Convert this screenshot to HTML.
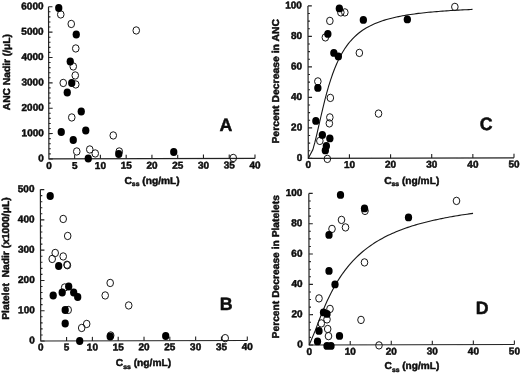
<!DOCTYPE html>
<html lang="en">
<head>
<meta charset="utf-8">
<title>Css versus nadir and percent decrease</title>
<style>
html,body{margin:0;padding:0;background:#fff;}
body{width:520px;height:374px;overflow:hidden;}
svg{display:block;}
text{font-family:"Liberation Sans", sans-serif;text-rendering:geometricPrecision;stroke:#0a0a0a;stroke-width:0.45;stroke-linejoin:round;}
.ax{fill:none;stroke:#222;stroke-width:1.2;}
.tk{fill:none;stroke:#222;stroke-width:1.1;}
.cv{fill:none;stroke:#151515;stroke-width:1.1;}
.o{fill:none;stroke:#161616;stroke-width:1.0;}
.f{fill:#000;stroke:none;}
</style>
</head>
<body>
<svg width="520" height="374" viewBox="0 0 520 374">
<defs><filter id="soft" x="0" y="0" width="520" height="374" filterUnits="userSpaceOnUse"><feGaussianBlur stdDeviation="0.3"/></filter></defs>
<rect width="520" height="374" fill="#fff"/>
<g font-weight="700" font-size="10.0" fill="#0a0a0a" filter="url(#soft)">
<g id="panelA">
<g transform="rotate(-0.14 48.9 158.95)">
<path class="ax" d="M48.9 6.75V158.95H255"/>
<path class="tk" d="M48.9 158.95h3.9M48.9 153.88h1.9M48.9 148.8h1.9M48.9 143.73h1.9M48.9 138.66h1.9M48.9 133.58h3.9M48.9 128.51h1.9M48.9 123.44h1.9M48.9 118.36h1.9M48.9 113.29h1.9M48.9 108.22h3.9M48.9 103.14h1.9M48.9 98.07h1.9M48.9 93h1.9M48.9 87.92h1.9M48.9 82.85h3.9M48.9 77.78h1.9M48.9 72.7h1.9M48.9 67.63h1.9M48.9 62.56h1.9M48.9 57.48h3.9M48.9 52.41h1.9M48.9 47.34h1.9M48.9 42.26h1.9M48.9 37.19h1.9M48.9 32.12h3.9M48.9 27.04h1.9M48.9 21.97h1.9M48.9 16.9h1.9M48.9 11.82h1.9M48.9 6.75h3.9M74.66 158.95v-4.0M100.42 158.95v-4.0M126.19 158.95v-4.0M151.95 158.95v-4.0M177.71 158.95v-4.0M203.47 158.95v-4.0M229.24 158.95v-4.0M255 158.95v-4.0"/>
<text x="48.9" y="169.05" text-anchor="middle">0</text>
<text x="74.66" y="169.05" text-anchor="middle">5</text>
<text x="100.42" y="169.05" text-anchor="middle">10</text>
<text x="126.19" y="169.05" text-anchor="middle">15</text>
<text x="151.95" y="169.05" text-anchor="middle">20</text>
<text x="177.71" y="169.05" text-anchor="middle">25</text>
<text x="203.47" y="169.05" text-anchor="middle">30</text>
<text x="229.24" y="169.05" text-anchor="middle">35</text>
<text x="255" y="169.05" text-anchor="middle">40</text>
<text x="43.9" y="161.55" text-anchor="end">0</text>
<text x="43.9" y="136.18" text-anchor="end">1000</text>
<text x="43.9" y="110.82" text-anchor="end">2000</text>
<text x="43.9" y="85.45" text-anchor="end">3000</text>
<text x="43.9" y="60.08" text-anchor="end">4000</text>
<text x="43.9" y="34.72" text-anchor="end">5000</text>
<text x="43.9" y="9.35" text-anchor="end">6000</text>
</g>
<ellipse class="o" cx="60.75" cy="14.45" rx="3.3" ry="3.7"/>
<ellipse class="o" cx="71.25" cy="23.95" rx="3.3" ry="3.7"/>
<ellipse class="o" cx="75.75" cy="48.45" rx="3.3" ry="3.7"/>
<ellipse class="o" cx="73.25" cy="66.45" rx="3.3" ry="3.7"/>
<ellipse class="o" cx="75.25" cy="75.45" rx="3.3" ry="3.7"/>
<ellipse class="o" cx="63.25" cy="82.95" rx="3.3" ry="3.7"/>
<ellipse class="o" cx="75.75" cy="84.45" rx="3.3" ry="3.7"/>
<ellipse class="o" cx="71.75" cy="117.45" rx="3.3" ry="3.7"/>
<ellipse class="o" cx="136.25" cy="30.45" rx="3.3" ry="3.7"/>
<ellipse class="o" cx="113.25" cy="135.45" rx="3.3" ry="3.7"/>
<ellipse class="o" cx="76.75" cy="151.45" rx="3.3" ry="3.7"/>
<ellipse class="o" cx="89.75" cy="149.45" rx="3.3" ry="3.7"/>
<ellipse class="o" cx="95.25" cy="153.45" rx="3.3" ry="3.7"/>
<ellipse class="o" cx="119.25" cy="151.45" rx="3.3" ry="3.7"/>
<ellipse class="o" cx="233.25" cy="157.95" rx="3.3" ry="3.7"/>
<ellipse class="f" cx="58.75" cy="7.95" rx="3.65" ry="3.95"/>
<ellipse class="f" cx="76.25" cy="34.45" rx="3.65" ry="3.95"/>
<ellipse class="f" cx="70.25" cy="61.45" rx="3.65" ry="3.95"/>
<ellipse class="f" cx="71.75" cy="82.95" rx="3.65" ry="3.95"/>
<ellipse class="f" cx="67.25" cy="92.45" rx="3.65" ry="3.95"/>
<ellipse class="f" cx="81.25" cy="111.45" rx="3.65" ry="3.95"/>
<ellipse class="f" cx="85.75" cy="130.45" rx="3.65" ry="3.95"/>
<ellipse class="f" cx="61.25" cy="131.95" rx="3.65" ry="3.95"/>
<ellipse class="f" cx="73.25" cy="139.95" rx="3.65" ry="3.95"/>
<ellipse class="f" cx="88.25" cy="158.45" rx="3.65" ry="3.95"/>
<ellipse class="f" cx="118.75" cy="153.95" rx="3.65" ry="3.95"/>
<ellipse class="f" cx="173.75" cy="151.95" rx="3.65" ry="3.95"/>
<text transform="translate(9.7 110.2) rotate(-90)" font-size="10.0" textLength="76.2" lengthAdjust="spacingAndGlyphs" style="white-space:pre">ANC Nadir (/μL)</text>
<text x="124.5" y="183.9" font-size="10.0" textLength="55.2" lengthAdjust="spacingAndGlyphs">C<tspan font-size="6.7" dy="2.2">ss</tspan><tspan dy="-2.2"> (ng/mL)</tspan></text>
<text x="219.6" y="131" font-size="17.8">A</text>
</g>
<g id="panelB">
<g transform="rotate(-0.14 40.75 341)">
<path class="ax" d="M40.75 189.6V341H247.3"/>
<path class="tk" d="M40.75 341h3.9M40.75 334.94h1.9M40.75 328.89h1.9M40.75 322.83h1.9M40.75 316.78h1.9M40.75 310.72h3.9M40.75 304.66h1.9M40.75 298.61h1.9M40.75 292.55h1.9M40.75 286.5h1.9M40.75 280.44h3.9M40.75 274.38h1.9M40.75 268.33h1.9M40.75 262.27h1.9M40.75 256.22h1.9M40.75 250.16h3.9M40.75 244.1h1.9M40.75 238.05h1.9M40.75 231.99h1.9M40.75 225.94h1.9M40.75 219.88h3.9M40.75 213.82h1.9M40.75 207.77h1.9M40.75 201.71h1.9M40.75 195.66h1.9M40.75 189.6h3.9M66.57 341v-4.0M92.39 341v-4.0M118.21 341v-4.0M144.03 341v-4.0M169.84 341v-4.0M195.66 341v-4.0M221.48 341v-4.0M247.3 341v-4.0"/>
<text x="40.75" y="350.6" text-anchor="middle">0</text>
<text x="66.57" y="350.6" text-anchor="middle">5</text>
<text x="92.39" y="350.6" text-anchor="middle">10</text>
<text x="118.21" y="350.6" text-anchor="middle">15</text>
<text x="144.03" y="350.6" text-anchor="middle">20</text>
<text x="169.84" y="350.6" text-anchor="middle">25</text>
<text x="195.66" y="350.6" text-anchor="middle">30</text>
<text x="221.48" y="350.6" text-anchor="middle">35</text>
<text x="247.3" y="350.6" text-anchor="middle">40</text>
<text x="34.85" y="343.5" text-anchor="end">0</text>
<text x="34.85" y="313.22" text-anchor="end">100</text>
<text x="34.85" y="282.94" text-anchor="end">200</text>
<text x="34.85" y="252.66" text-anchor="end">300</text>
<text x="34.85" y="222.38" text-anchor="end">400</text>
<text x="34.85" y="192.1" text-anchor="end">500</text>
</g>
<ellipse class="o" cx="63.2" cy="218.95" rx="3.3" ry="3.7"/>
<ellipse class="o" cx="67.7" cy="235.95" rx="3.3" ry="3.7"/>
<ellipse class="o" cx="55.2" cy="252.95" rx="3.3" ry="3.7"/>
<ellipse class="o" cx="52.2" cy="258.95" rx="3.3" ry="3.7"/>
<ellipse class="o" cx="63.2" cy="256.45" rx="3.3" ry="3.7"/>
<ellipse class="o" cx="67" cy="264.75" rx="3.3" ry="3.7"/>
<ellipse class="o" cx="67.4" cy="265.25" rx="3.3" ry="3.7"/>
<ellipse class="o" cx="64.7" cy="287.45" rx="3.3" ry="3.7"/>
<ellipse class="o" cx="68.2" cy="309.95" rx="3.3" ry="3.7"/>
<ellipse class="o" cx="110.2" cy="282.95" rx="3.3" ry="3.7"/>
<ellipse class="o" cx="105.2" cy="295.45" rx="3.3" ry="3.7"/>
<ellipse class="o" cx="128.7" cy="305.45" rx="3.3" ry="3.7"/>
<ellipse class="o" cx="81.7" cy="327.95" rx="3.3" ry="3.7"/>
<ellipse class="o" cx="86.7" cy="323.95" rx="3.3" ry="3.7"/>
<ellipse class="o" cx="110.7" cy="335.45" rx="3.3" ry="3.7"/>
<ellipse class="o" cx="225.2" cy="338.15" rx="3.3" ry="3.7"/>
<ellipse class="f" cx="50.2" cy="195.95" rx="3.65" ry="3.95"/>
<ellipse class="f" cx="58.7" cy="265.95" rx="3.65" ry="3.95"/>
<ellipse class="f" cx="53.2" cy="295.45" rx="3.65" ry="3.95"/>
<ellipse class="f" cx="62.2" cy="292.45" rx="3.65" ry="3.95"/>
<ellipse class="f" cx="68.7" cy="286.45" rx="3.65" ry="3.95"/>
<ellipse class="f" cx="73.7" cy="292.45" rx="3.65" ry="3.95"/>
<ellipse class="f" cx="77.7" cy="296.95" rx="3.65" ry="3.95"/>
<ellipse class="f" cx="65.2" cy="309.95" rx="3.65" ry="3.95"/>
<ellipse class="f" cx="65.2" cy="323.45" rx="3.65" ry="3.95"/>
<ellipse class="f" cx="79.7" cy="340.95" rx="3.65" ry="3.95"/>
<ellipse class="f" cx="110.2" cy="336.45" rx="3.65" ry="3.95"/>
<ellipse class="f" cx="165.7" cy="335.95" rx="3.65" ry="3.95"/>
<text transform="translate(8.7 319.8) rotate(-90)" font-size="10.0" textLength="122.5" lengthAdjust="spacingAndGlyphs" style="white-space:pre">Platelet  Nadir (x1000/μL)</text>
<text x="115.8" y="366.4" font-size="10.0" textLength="55.4" lengthAdjust="spacingAndGlyphs">C<tspan font-size="6.7" dy="2.2">ss</tspan><tspan dy="-2.2"> (ng/mL)</tspan></text>
<text x="219.7" y="310.1" font-size="17.8">B</text>
</g>
<g id="panelC">
<g transform="rotate(-0.14 308.3 158.35)">
<path class="ax" d="M308.3 5.9V158.35H514"/>
<path class="tk" d="M308.3 158.35h3.9M308.3 150.73h1.9M308.3 143.1h1.9M308.3 135.48h1.9M308.3 127.86h3.9M308.3 120.24h1.9M308.3 112.61h1.9M308.3 104.99h1.9M308.3 97.37h3.9M308.3 89.75h1.9M308.3 82.12h1.9M308.3 74.5h1.9M308.3 66.88h3.9M308.3 59.26h1.9M308.3 51.63h1.9M308.3 44.01h1.9M308.3 36.39h3.9M308.3 28.77h1.9M308.3 21.15h1.9M308.3 13.52h1.9M308.3 5.9h3.9M349.44 158.35v-4.0M390.58 158.35v-4.0M431.72 158.35v-4.0M472.86 158.35v-4.0M514 158.35v-4.0"/>
<text x="308.3" y="168.05" text-anchor="middle">0</text>
<text x="349.44" y="168.05" text-anchor="middle">10</text>
<text x="390.58" y="168.05" text-anchor="middle">20</text>
<text x="431.72" y="168.05" text-anchor="middle">30</text>
<text x="472.86" y="168.05" text-anchor="middle">40</text>
<text x="514" y="168.05" text-anchor="middle">50</text>
<text x="302.3" y="160.95" text-anchor="end">0</text>
<text x="302.3" y="130.46" text-anchor="end">20</text>
<text x="302.3" y="99.97" text-anchor="end">40</text>
<text x="302.3" y="69.48" text-anchor="end">60</text>
<text x="302.3" y="38.99" text-anchor="end">80</text>
<text x="302.3" y="8.5" text-anchor="end">100</text>
<path class="cv" d="M308.3 158.35L312.83 149.86L314.83 142.75L316.83 134.6L318.83 125.98L320.83 117.28L322.83 108.8L324.83 100.75L326.83 93.21L328.83 86.26L330.83 79.88L332.83 74.07L334.83 68.8L336.83 64.03L338.83 59.71L340.83 55.8L342.83 52.27L344.83 49.06L346.83 46.16L348.83 43.52L350.83 41.11L352.83 38.92L354.83 36.92L356.83 35.09L358.84 33.42L360.84 31.88L362.84 30.46L364.84 29.15L366.84 27.94L368.84 26.83L370.84 25.79L372.84 24.83L374.84 23.94L376.84 23.11L378.84 22.34L380.84 21.61L382.84 20.93L384.84 20.3L386.84 19.71L388.84 19.15L390.84 18.62L392.84 18.13L394.84 17.67L396.84 17.23L398.84 16.81L400.84 16.42L402.84 16.05L404.85 15.7L406.85 15.36L408.85 15.05L410.85 14.75L412.85 14.46L414.85 14.19L416.85 13.93L418.85 13.69L420.85 13.45L422.85 13.23L424.85 13.01L426.85 12.81L428.85 12.61L430.85 12.42L432.85 12.24L434.85 12.07L436.85 11.91L438.85 11.75L440.85 11.6L442.85 11.45L444.85 11.31L446.85 11.18L448.85 11.05L450.86 10.92L452.86 10.8L454.86 10.68L456.86 10.57L458.86 10.46L460.86 10.36L462.86 10.26L464.86 10.16L466.86 10.07L468.86 9.98L470.86 9.89L472.86 9.81"/>
</g>
<ellipse class="o" cx="454.85" cy="6.9" rx="3.3" ry="3.7"/>
<ellipse class="o" cx="340.85" cy="12.4" rx="3.3" ry="3.7"/>
<ellipse class="o" cx="344.85" cy="12.4" rx="3.3" ry="3.7"/>
<ellipse class="o" cx="329.85" cy="20.9" rx="3.3" ry="3.7"/>
<ellipse class="o" cx="325.35" cy="37.4" rx="3.3" ry="3.7"/>
<ellipse class="o" cx="359.35" cy="52.9" rx="3.3" ry="3.7"/>
<ellipse class="o" cx="317.85" cy="81.4" rx="3.3" ry="3.7"/>
<ellipse class="o" cx="330.35" cy="97.9" rx="3.3" ry="3.7"/>
<ellipse class="o" cx="378.55" cy="113.6" rx="3.3" ry="3.7"/>
<ellipse class="o" cx="329.85" cy="117.4" rx="3.3" ry="3.7"/>
<ellipse class="o" cx="329.35" cy="123.4" rx="3.3" ry="3.7"/>
<ellipse class="o" cx="319.85" cy="140.9" rx="3.3" ry="3.7"/>
<ellipse class="o" cx="327.35" cy="158.9" rx="3.3" ry="3.7"/>
<ellipse class="f" cx="339.35" cy="8.4" rx="3.65" ry="3.95"/>
<ellipse class="f" cx="327.85" cy="33.9" rx="3.65" ry="3.95"/>
<ellipse class="f" cx="363.35" cy="19.9" rx="3.65" ry="3.95"/>
<ellipse class="f" cx="407.35" cy="19.4" rx="3.65" ry="3.95"/>
<ellipse class="f" cx="333.85" cy="52.9" rx="3.65" ry="3.95"/>
<ellipse class="f" cx="338.35" cy="56.4" rx="3.65" ry="3.95"/>
<ellipse class="f" cx="317.85" cy="87.9" rx="3.65" ry="3.95"/>
<ellipse class="f" cx="315.85" cy="120.9" rx="3.65" ry="3.95"/>
<ellipse class="f" cx="322.35" cy="134.9" rx="3.65" ry="3.95"/>
<ellipse class="f" cx="329.85" cy="138.4" rx="3.65" ry="3.95"/>
<ellipse class="f" cx="326.35" cy="145.9" rx="3.65" ry="3.95"/>
<ellipse class="f" cx="325.35" cy="150.4" rx="3.65" ry="3.95"/>
<text transform="translate(279.1 143.6) rotate(-90)" font-size="10.0" textLength="124.6" lengthAdjust="spacingAndGlyphs" style="white-space:pre">Percent Decrease in ANC</text>
<text x="384.2" y="183.6" font-size="10.0" textLength="55.1" lengthAdjust="spacingAndGlyphs">C<tspan font-size="6.7" dy="2.2">ss</tspan><tspan dy="-2.2"> (ng/mL)</tspan></text>
<text x="479.8" y="130.3" font-size="17.8">C</text>
</g>
<g id="panelD">
<g transform="rotate(-0.14 309.2 345)">
<path class="ax" d="M309.2 193.4V345H514.4"/>
<path class="tk" d="M309.2 345h3.9M309.2 337.42h1.9M309.2 329.84h1.9M309.2 322.26h1.9M309.2 314.68h3.9M309.2 307.1h1.9M309.2 299.52h1.9M309.2 291.94h1.9M309.2 284.36h3.9M309.2 276.78h1.9M309.2 269.2h1.9M309.2 261.62h1.9M309.2 254.04h3.9M309.2 246.46h1.9M309.2 238.88h1.9M309.2 231.3h1.9M309.2 223.72h3.9M309.2 216.14h1.9M309.2 208.56h1.9M309.2 200.98h1.9M309.2 193.4h3.9M350.24 345v-4.0M391.28 345v-4.0M432.32 345v-4.0M473.36 345v-4.0M514.4 345v-4.0"/>
<text x="309.2" y="354.9" text-anchor="middle">0</text>
<text x="350.24" y="354.9" text-anchor="middle">10</text>
<text x="391.28" y="354.9" text-anchor="middle">20</text>
<text x="432.32" y="354.9" text-anchor="middle">30</text>
<text x="473.36" y="354.9" text-anchor="middle">40</text>
<text x="514.4" y="354.9" text-anchor="middle">50</text>
<text x="302.7" y="347.6" text-anchor="end">0</text>
<text x="302.7" y="317.28" text-anchor="end">20</text>
<text x="302.7" y="286.96" text-anchor="end">40</text>
<text x="302.7" y="256.64" text-anchor="end">60</text>
<text x="302.7" y="226.32" text-anchor="end">80</text>
<text x="302.7" y="196" text-anchor="end">100</text>
<path class="cv" d="M309.2 345L315.36 330.41L317.33 325.14L319.31 319.96L321.28 314.94L323.26 310.11L325.23 305.51L327.21 301.12L329.18 296.96L331.16 293.01L333.13 289.27L335.11 285.73L337.08 282.39L339.06 279.22L341.03 276.23L343.01 273.39L344.98 270.7L346.96 268.16L348.93 265.75L350.91 263.46L352.88 261.28L354.86 259.22L356.83 257.25L358.81 255.38L360.78 253.6L362.76 251.91L364.73 250.29L366.71 248.75L368.68 247.27L370.66 245.86L372.63 244.51L374.61 243.22L376.58 241.99L378.56 240.8L380.53 239.67L382.51 238.58L384.48 237.53L386.46 236.52L388.43 235.56L390.41 234.63L392.38 233.73L394.36 232.87L396.33 232.04L398.31 231.24L400.28 230.46L402.26 229.72L404.23 229L406.21 228.3L408.18 227.63L410.16 226.98L412.13 226.35L414.11 225.74L416.08 225.15L418.06 224.58L420.03 224.03L422.01 223.49L423.98 222.97L425.96 222.47L427.93 221.98L429.91 221.51L431.88 221.04L433.86 220.6L435.83 220.16L437.81 219.74L439.78 219.32L441.76 218.92L443.73 218.53L445.71 218.15L447.68 217.78L449.66 217.42L451.63 217.07L453.61 216.73L455.58 216.4L457.56 216.07L459.53 215.76L461.51 215.45L463.48 215.15L465.46 214.85L467.43 214.56L469.41 214.28L471.38 214.01L473.36 213.74"/>
</g>
<ellipse class="o" cx="456.5" cy="200.9" rx="3.3" ry="3.7"/>
<ellipse class="o" cx="365" cy="210.9" rx="3.3" ry="3.7"/>
<ellipse class="o" cx="341.5" cy="219.9" rx="3.3" ry="3.7"/>
<ellipse class="o" cx="332" cy="228.9" rx="3.3" ry="3.7"/>
<ellipse class="o" cx="345.5" cy="227.4" rx="3.3" ry="3.7"/>
<ellipse class="o" cx="364.5" cy="262.4" rx="3.3" ry="3.7"/>
<ellipse class="o" cx="319" cy="298.4" rx="3.3" ry="3.7"/>
<ellipse class="o" cx="330" cy="308.9" rx="3.3" ry="3.7"/>
<ellipse class="o" cx="361" cy="319.9" rx="3.3" ry="3.7"/>
<ellipse class="o" cx="327" cy="319.4" rx="3.3" ry="3.7"/>
<ellipse class="o" cx="321.3" cy="323.4" rx="3.3" ry="3.7"/>
<ellipse class="o" cx="327.7" cy="329" rx="3.3" ry="3.7"/>
<ellipse class="o" cx="328.5" cy="336.1" rx="3.3" ry="3.7"/>
<ellipse class="o" cx="379" cy="345.4" rx="3.3" ry="3.7"/>
<ellipse class="f" cx="340.5" cy="194.9" rx="3.65" ry="3.95"/>
<ellipse class="f" cx="364.5" cy="208.4" rx="3.65" ry="3.95"/>
<ellipse class="f" cx="408.5" cy="217.4" rx="3.65" ry="3.95"/>
<ellipse class="f" cx="329" cy="234.9" rx="3.65" ry="3.95"/>
<ellipse class="f" cx="329" cy="270.9" rx="3.65" ry="3.95"/>
<ellipse class="f" cx="335" cy="284.4" rx="3.65" ry="3.95"/>
<ellipse class="f" cx="323.5" cy="312.4" rx="3.65" ry="3.95"/>
<ellipse class="f" cx="327" cy="313.9" rx="3.65" ry="3.95"/>
<ellipse class="f" cx="319" cy="330.9" rx="3.65" ry="3.95"/>
<ellipse class="f" cx="339.5" cy="335.9" rx="3.65" ry="3.95"/>
<ellipse class="f" cx="317.5" cy="341.4" rx="3.65" ry="3.95"/>
<ellipse class="f" cx="327" cy="345.9" rx="3.65" ry="3.95"/>
<ellipse class="f" cx="331" cy="345.9" rx="3.65" ry="3.95"/>
<text transform="translate(279.3 338.4) rotate(-90)" font-size="10.0" textLength="143.3" lengthAdjust="spacingAndGlyphs" style="white-space:pre">Percent Decrease in Platelets</text>
<text x="384.6" y="369.4" font-size="10.0" textLength="54.7" lengthAdjust="spacingAndGlyphs">C<tspan font-size="6.7" dy="2.2">ss</tspan><tspan dy="-2.2"> (ng/mL)</tspan></text>
<text x="475.8" y="313.8" font-size="17.8">D</text>
</g>
</g>
</svg>
</body>
</html>
